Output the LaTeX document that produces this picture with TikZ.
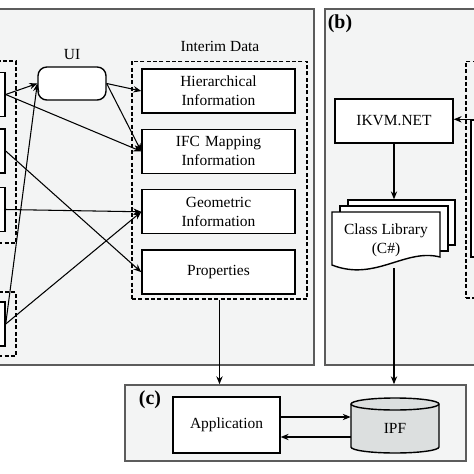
\documentclass[tikz,border=0pt]{standalone}
\usepackage{fontspec}
\setmainfont{Liberation Serif}
\usetikzlibrary{positioning,arrows.meta}
\definecolor{panelfill}{HTML}{F3F4F4}
\definecolor{panelline}{HTML}{5C5C5C}
\definecolor{dbgray}{HTML}{DCDFDF}

\begin{document}
\begin{tikzpicture}[
    x=0.02cm, y=-0.02cm,
    node distance=0.3cm,
    font=\fontsize{8.8}{10.8}\selectfont,
    panel/.style={rectangle, draw=panelline, fill=panelfill, line width=0.9pt},
    group/.style={rectangle, draw, dash pattern=on 2.3pt off 1.3pt, line width=0.6pt},
    box/.style={rectangle, draw, fill=white, line width=0.8pt, text width=2.8cm, align=center, minimum width=3.06cm, minimum height=0.88cm, inner sep=2pt},
    src/.style={rectangle, draw, fill=white, line width=0.8pt, minimum width=1.2cm, minimum height=0.88cm},
    uibox/.style={rectangle, draw, fill=white, line width=0.8pt, rounded corners=5pt, minimum width=1.36cm, minimum height=0.66cm},
    sheet/.style={rectangle, draw, fill=white, line width=0.8pt},
    doc/.style={rectangle, align=center, minimum width=2.16cm, minimum height=1.12cm},
    tag/.style={font=\fontsize{11.3}{13}\selectfont\bfseries},
    arrow/.style={->, >={Stealth[length=4.5pt, width=3.6pt]}, line width=0.6pt}
]
    \useasboundingbox (0,0) rectangle (474,474);
    \clip (0,0) rectangle (474,474);

    % panels
    \node[panel, minimum width=6.48cm, minimum height=7.12cm] (pa) at (152,187) {};
    \node[panel, minimum width=3.4cm, minimum height=7.12cm] (pb) at (410,187) {};
    \node[panel, minimum width=6.82cm, minimum height=1.52cm] (pc) at (295.5,423) {};
    \node[tag] (tagb) at (340,24) {(b)};
    \node[tag] (tagc) at (150,400) {(c)};

    % (a)
    \node[group, minimum width=1.62cm, minimum height=3.64cm] (srcgrp) at (-24.5,152) {};
    \node[group, minimum width=1.62cm, minimum height=1.28cm] (extgrp) at (-24.5,324) {};
    \node[src] (s1) at (-25,94.5) {};
    \node[src] (s2) at (-25,151) {};
    \node[src] (s3) at (-25,209.5) {};
    \node[src] (s4) at (-25,324) {};

    \node[uibox] (ui) at (72,83.5) {};
    \node (uilbl) at (72,55) {UI};

    \node[group, minimum width=3.5cm, minimum height=4.76cm] (interim) at (219.5,180) {};
    \node (interimlbl) at (220,46) {Interim Data};
    \node[box] (hier) at (218.5,91) {Hierarchical\\Information};
    \node[box, below=of hier] (ifc) {IFC Mapping\\Information};
    \node[box, below=of ifc] (geo) {Geometric\\Information};
    \node[box, below=of geo] (prop) {Properties};

    \draw[arrow] (s1.east) -- (ui.west);
    \draw[arrow] (s1.east) -- (ifc.west);
    \draw[arrow] (ui.east) -- (hier.west);
    \draw[arrow] (ui.east) -- (ifc.west);
    \draw[arrow] (s2.east) -- (prop.west);
    \draw[arrow] (s3.east) -- (geo.west);
    \draw[arrow] (s4.east) -- (ui.west);
    \draw[arrow] (s4.east) -- (geo.west);

    % (b)
    \node[group, minimum width=1.28cm, minimum height=4.74cm] (jgrp) at (498,179.5) {};
    \node[src, minimum width=0.98cm, minimum height=2.74cm] (jbox) at (495.5,188.5) {};
    \node[box, minimum width=2.36cm, text width=2.2cm] (ikvm) at (394,121) {IKVM.NET};
    \node[sheet, minimum width=2.14cm, minimum height=0.9cm] (lay3) at (401.5,222.5) {};
    \node[sheet, minimum width=2.16cm, minimum height=0.9cm] (lay2) at (394,228.5) {};
    \draw[line width=0.8pt, fill=white] (332,212) -- (440,212) -- (440,257)
        .. controls (405,248) and (375,282) .. (332,265) -- cycle;
    \node[doc] (cls) at (386,240) {Class Library\\(C\#)};

    \draw[arrow] (jbox.north west) -- (jbox.north west -| ikvm.east);
    \draw[arrow] (ikvm.south) -- (ikvm.south |- lay3.north);

    % (c)
    \node[box, minimum width=2.14cm, minimum height=1.12cm, text width=2cm] (app) at (226.5,425) {Application};
    \draw[line width=0.8pt, fill=dbgray] (351,404) -- (351,447)
        arc[start angle=180, end angle=360, x radius=0.88cm, y radius=0.12cm]
        -- (439,404)
        arc[start angle=0, end angle=180, x radius=0.88cm, y radius=0.12cm] -- cycle;
    \draw[line width=0.8pt] (351,404)
        arc[start angle=180, end angle=360, x radius=0.88cm, y radius=0.12cm];
    \node[rectangle, minimum width=1.76cm, minimum height=1.1cm] (ipf) at (395,428) {IPF};

    \draw[arrow] ([yshift=0.16cm]app.east) -- ([yshift=0.16cm]app.east -| ipf.west);
    \draw[arrow] ([yshift=-0.24cm]app.east -| ipf.west) -- ([yshift=-0.24cm]app.east);

    % between panels
    \draw[arrow] (interim.south) -- (interim.south |- pc.north);
    \draw[arrow] (ikvm.south |- cls.south) -- (ikvm.south |- pc.north);
\end{tikzpicture}
\end{document}
